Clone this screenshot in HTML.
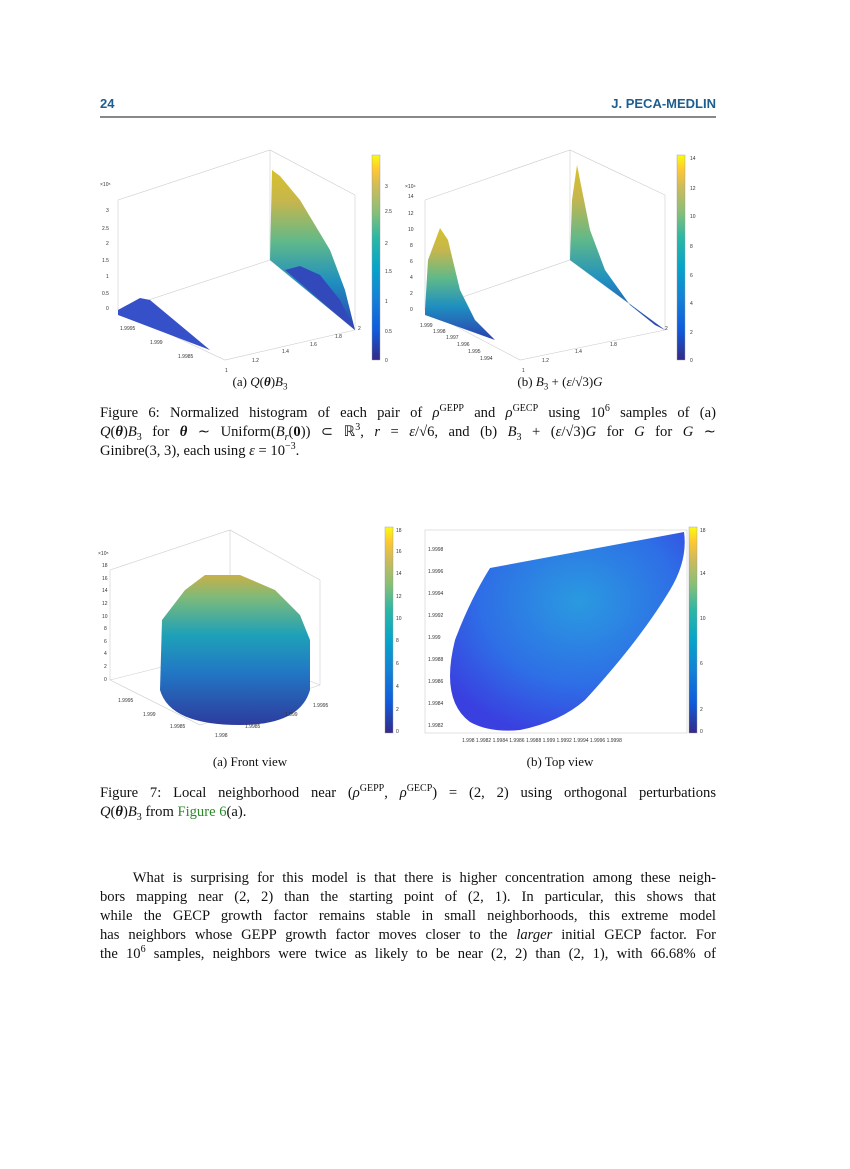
<!DOCTYPE html>
<html><head><meta charset="utf-8">
<style>
body{margin:0;background:#fff;}
#pg{position:relative;width:850px;height:1169px;overflow:hidden;font-family:"Liberation Serif",serif;color:#111;}
.ab{position:absolute;}
.ln{position:absolute;left:100px;width:616px;font-size:14.6px;text-align:justify;text-align-last:justify;white-space:nowrap;line-height:18px;}
.ln.l{text-align-last:left;}
.cap{position:absolute;font-size:13px;text-align:center;}
sup{font-size:10px;line-height:0;}
.tk{font-family:"Liberation Sans",sans-serif;font-size:5px;fill:#333;}
</style></head><body><div id="pg">
<div class="ab" style="left:100px;top:96px;font-family:'Liberation Sans',sans-serif;font-weight:bold;font-size:13px;color:#1d5d8f;">24</div>
<div class="ab" style="right:134px;top:96px;font-family:'Liberation Sans',sans-serif;font-weight:bold;font-size:13px;color:#1d5d8f;">J. PECA-MEDLIN</div>
<div class="ab" style="left:100px;top:116px;width:616px;height:2px;background:#888;"></div>

<svg class="ab" style="left:0;top:0" width="850" height="1169">
<defs>
<linearGradient id="par" x1="0" y1="1" x2="0" y2="0">
<stop offset="0" stop-color="#352a87"/><stop offset="0.15" stop-color="#0f5cdd"/><stop offset="0.3" stop-color="#1481d6"/><stop offset="0.45" stop-color="#06a4ca"/><stop offset="0.6" stop-color="#2eb7a4"/><stop offset="0.72" stop-color="#87bf77"/><stop offset="0.85" stop-color="#d1bb59"/><stop offset="0.93" stop-color="#fec832"/><stop offset="1" stop-color="#f9fb0e"/>
</linearGradient>
<linearGradient id="pk" x1="0" y1="1" x2="0" y2="0">
<stop offset="0" stop-color="#2b3fb0"/><stop offset="0.3" stop-color="#1f8fc0"/><stop offset="0.55" stop-color="#5fb98a"/><stop offset="0.8" stop-color="#c5b64e"/><stop offset="1" stop-color="#d8c12a"/>
</linearGradient>
<linearGradient id="dome" x1="0" y1="1" x2="0" y2="0">
<stop offset="0" stop-color="#2d3c9e"/><stop offset="0.35" stop-color="#2277c4"/><stop offset="0.6" stop-color="#1ea1b8"/><stop offset="0.85" stop-color="#7dba7a"/><stop offset="1" stop-color="#c7b048"/>
</linearGradient>
<radialGradient id="blob" cx="0.55" cy="0.35" r="0.7">
<stop offset="0" stop-color="#2a9ae0"/><stop offset="0.6" stop-color="#2e6ee6"/><stop offset="1" stop-color="#3a3fe0"/>
</radialGradient>
</defs>
<g stroke="#ccc" stroke-width="0.6" fill="none">
<!-- fig6a box -->
<path d="M118 200 L270 150 L355 195 M118 200 L118 310 M270 150 L270 260 M355 195 L355 330 M118 310 L270 260 L355 330 M118 310 L225 360 L355 330"/>
<!-- fig6b box -->
<path d="M425 200 L570 150 L665 195 M425 200 L425 310 M570 150 L570 260 M665 195 L665 330 M425 310 L570 260 L665 330 M425 310 L520 360 L665 330"/>
<!-- fig7a box -->
<path d="M110 570 L230 530 L320 580 M110 570 L110 680 M230 530 L230 650 M320 580 L320 685 M110 680 L230 650 L320 685 M110 680 L200 725 L320 685"/>
<rect x="425" y="530" width="262" height="203"/>
</g>
<!-- fig6a shapes -->
<path d="M118 310 L140 298 L150 300 L210 350 L118 315 Z" fill="#3550c8"/>
<path d="M270 260 L272 170 L280 176 L300 200 L330 250 L345 290 L355 330 Z" fill="url(#pk)"/>
<path d="M285 270 L300 266 L320 275 L340 300 L355 330 Z" fill="#3249bb"/>
<!-- fig6b shapes -->
<path d="M425 310 L428 260 L440 228 L448 240 L460 290 L475 320 L495 340 L425 315 Z" fill="url(#pk)"/>
<path d="M570 260 L572 200 L577 165 L583 195 L590 230 L605 270 L630 305 L655 325 L665 330 Z" fill="url(#pk)"/>
<!-- fig7a dome -->
<path d="M160 690 L162 620 L185 590 L205 575 L240 575 L275 590 L300 615 L310 640 L310 690 Q300 725 240 725 Q170 725 160 690 Z" fill="url(#dome)"/>
<!-- fig7b blob -->
<path d="M684 532 L490 568 Q470 600 455 640 Q440 700 470 722 Q490 733 520 730 Q560 722 585 700 Q640 640 670 590 Q688 560 684 532 Z" fill="url(#blob)"/>
<!-- colorbars -->
<rect x="372" y="155" width="8" height="205" fill="url(#par)" stroke="#999" stroke-width="0.4"/>
<rect x="677" y="155" width="8" height="205" fill="url(#par)" stroke="#999" stroke-width="0.4"/>
<rect x="385" y="527" width="8" height="206" fill="url(#par)" stroke="#999" stroke-width="0.4"/>
<rect x="689" y="527" width="8" height="206" fill="url(#par)" stroke="#999" stroke-width="0.4"/>
<g class="tk">
<text x="100" y="186">×10⁵</text><text x="106" y="212">3</text><text x="102" y="230">2.5</text><text x="106" y="245">2</text><text x="102" y="262">1.5</text><text x="106" y="278">1</text><text x="102" y="295">0.5</text><text x="106" y="310">0</text>
<text x="120" y="330">1.9995</text><text x="150" y="344">1.999</text><text x="178" y="358">1.9985</text><text x="225" y="372">1</text><text x="252" y="362">1.2</text><text x="282" y="353">1.4</text><text x="310" y="346">1.6</text><text x="335" y="338">1.8</text><text x="358" y="330">2</text>
<text x="385" y="188">3</text><text x="385" y="213">2.5</text><text x="385" y="245">2</text><text x="385" y="273">1.5</text><text x="385" y="303">1</text><text x="385" y="333">0.5</text><text x="385" y="362">0</text>
<text x="405" y="188">×10⁴</text><text x="408" y="198">14</text><text x="408" y="215">12</text><text x="408" y="231">10</text><text x="410" y="247">8</text><text x="410" y="263">6</text><text x="410" y="279">4</text><text x="410" y="295">2</text><text x="410" y="311">0</text>
<text x="420" y="327">1.999</text><text x="433" y="333">1.998</text><text x="446" y="339">1.997</text><text x="457" y="346">1.996</text><text x="468" y="353">1.995</text><text x="480" y="360">1.994</text><text x="522" y="372">1</text><text x="542" y="362">1.2</text><text x="575" y="353">1.4</text><text x="610" y="346">1.8</text><text x="665" y="330">2</text>
<text x="690" y="190">12</text><text x="690" y="218">10</text><text x="690" y="248">8</text><text x="690" y="277">6</text><text x="690" y="305">4</text><text x="690" y="334">2</text><text x="690" y="362">0</text><text x="690" y="160">14</text>
<text x="98" y="555">×10⁵</text><text x="102" y="567">18</text><text x="102" y="580">16</text><text x="102" y="592">14</text><text x="102" y="605">12</text><text x="102" y="618">10</text><text x="104" y="630">8</text><text x="104" y="643">6</text><text x="104" y="655">4</text><text x="104" y="668">2</text><text x="104" y="681">0</text>
<text x="118" y="702">1.9995</text><text x="143" y="716">1.999</text><text x="170" y="728">1.9985</text><text x="215" y="737">1.998</text><text x="245" y="728">1.9985</text><text x="285" y="716">1.999</text><text x="313" y="707">1.9995</text>
<text x="396" y="532">18</text><text x="396" y="553">16</text><text x="396" y="575">14</text><text x="396" y="598">12</text><text x="396" y="620">10</text><text x="396" y="642">8</text><text x="396" y="665">6</text><text x="396" y="688">4</text><text x="396" y="711">2</text><text x="396" y="733">0</text>
<text x="700" y="532">18</text><text x="700" y="575">14</text><text x="700" y="620">10</text><text x="700" y="665">6</text><text x="700" y="711">2</text><text x="700" y="733">0</text>
<text x="428" y="551">1.9998</text><text x="428" y="573">1.9996</text><text x="428" y="595">1.9994</text><text x="428" y="617">1.9992</text><text x="428" y="639">1.999</text><text x="428" y="661">1.9988</text><text x="428" y="683">1.9986</text><text x="428" y="705">1.9984</text><text x="428" y="727">1.9982</text>
<text x="462" y="742">1.998 1.9982 1.9984 1.9986 1.9988 1.999 1.9992 1.9994 1.9996 1.9998</text>
</g>
</svg>

<div class="cap" style="left:190px;top:374px;width:140px;">(a) <i>Q</i>(<b><i>θ</i></b>)<i>B</i><sub style="font-size:9px">3</sub></div>
<div class="cap" style="left:480px;top:374px;width:160px;">(b) <i>B</i><sub style="font-size:9px">3</sub> + (<i>ε</i>/√3)<i>G</i></div>

<div class="ln" style="top:404px;">Figure 6: Normalized histogram of each pair of <i>ρ</i><sup>GEPP</sup> and <i>ρ</i><sup>GECP</sup> using 10<sup>6</sup> samples of (a)</div>
<div class="ln" style="top:423px;"><i>Q</i>(<b><i>θ</i></b>)<i>B</i><sub style="font-size:10px">3</sub> for <b><i>θ</i></b> ∼ Uniform(<i>B<sub style="font-size:10px">r</sub></i>(<b>0</b>)) ⊂ ℝ<sup>3</sup>, <i>r</i> = <i>ε</i>/√6, and (b) <i>B</i><sub style="font-size:10px">3</sub> + (<i>ε</i>/√3)<i>G</i> for <i>G</i> for <i>G</i> ∼</div>
<div class="ln l" style="top:442px;">Ginibre(3, 3), each using <i>ε</i> = 10<sup>−3</sup>.</div>

<div class="cap" style="left:180px;top:754px;width:140px;">(a) Front view</div>
<div class="cap" style="left:490px;top:754px;width:140px;">(b) Top view</div>

<div class="ln" style="top:784px;">Figure 7: Local neighborhood near (<i>ρ</i><sup>GEPP</sup>, <i>ρ</i><sup>GECP</sup>) = (2, 2) using orthogonal perturbations</div>
<div class="ln l" style="top:803px;"><i>Q</i>(<b><i>θ</i></b>)<i>B</i><sub style="font-size:10px">3</sub> from <span style="color:#2a8a2a">Figure 6</span>(a).</div>

<div class="ln" style="top:869px;">&nbsp;&nbsp;&nbsp;&nbsp;What is surprising for this model is that there is higher concentration among these neigh-</div>
<div class="ln" style="top:888px;">bors mapping near (2, 2) than the starting point of (2, 1). In particular, this shows that</div>
<div class="ln" style="top:907px;">while the GECP growth factor remains stable in small neighborhoods, this extreme model</div>
<div class="ln" style="top:926px;">has neighbors whose GEPP growth factor moves closer to the <i>larger</i> initial GECP factor. For</div>
<div class="ln" style="top:945px;">the 10<sup>6</sup> samples, neighbors were twice as likely to be near (2, 2) than (2, 1), with 66.68% of</div>
</div></body></html>
